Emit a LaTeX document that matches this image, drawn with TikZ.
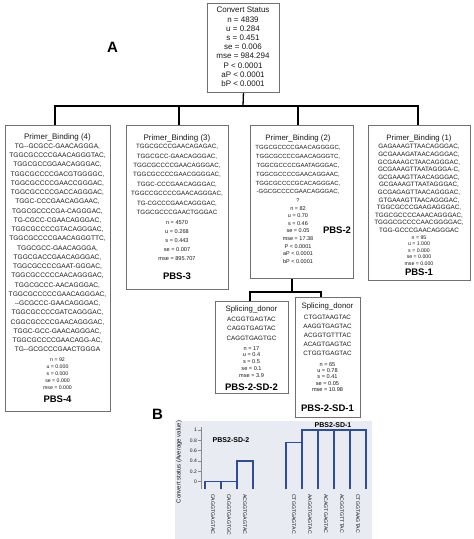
\documentclass[tikz,border=0pt]{standalone}
\usepackage{fontspec}
\setmainfont{Liberation Sans}
\definecolor{boxc}{HTML}{707070}
\definecolor{txtc}{HTML}{1A1A1A}
\definecolor{barc}{HTML}{2E4C9C}
\definecolor{panelc}{HTML}{E8EBF1}
\definecolor{axisc}{HTML}{8A8A8A}
\newcommand\fz[1]{\fontsize{#1}{#1}\selectfont}
\tikzset{
 box/.style={draw=boxc, line width=0.9pt, inner sep=0pt, anchor=north west, fill=white},
 link/.style={line width=1.3pt, draw=black},
 tx/.style={inner sep=0pt, anchor=base, text=txtc},
 lbl/.style={inner sep=0pt, anchor=base, text=black, font=\bfseries\fz{9.5}},
 barline/.style={draw=barc, line width=1.1pt},
 xlab/.style={inner sep=0pt, rotate=-90, anchor=west, text=txtc, font=\fz{5.2}},
}
\begin{document}
\begin{tikzpicture}[x=1pt,y=-1pt]
\useasboundingbox (0,0) rectangle (474,539);
\fill[white] (0,0) rectangle (474,539);

% ---- top box
\node[box, minimum width=72, minimum height=89] (b0) at (207,3) {};
\foreach \s [count=\i from 0] in {Convert Status, n = 4839, u = 0.284, s = 0.451, se = 0.006, mse = 984.294, P < 0.0001, aP < 0.0001, bP < 0.0001}
  \node[tx, font=\fz{8}] (t0-\i) at (243, 12.9+9.19*\i) {\s};

\node[inner sep=0pt, font=\bfseries\fz{15}] (labA) at (112.5,47.5) {A};

% ---- boxes of level 1
\node[box, minimum width=105, minimum height=286] (b4) at (5,125) {};
\node[box, minimum width=102, minimum height=164] (b3) at (126,125) {};
\node[box, minimum width=103, minimum height=153] (b2) at (250,125) {};
\node[box, minimum width=102, minimum height=155] (b1) at (368,125) {};

% connectors level 1
\coordinate (j) at (243,106);
\coordinate (d4) at (55,106);
\coordinate (d3) at (179,106);
\coordinate (d2) at (298,106);
\coordinate (d1) at (418,106);
\draw[link] (b0.south) -- (j);
\draw[link] (d4 |- b4.north) -- (d4) -- (d1) -- (d1 |- b1.north);
\draw[link] (d3) -- (d3 |- b3.north);
\draw[link] (d2) -- (d2 |- b2.north);

% ---- box 4
\node[tx, font=\fz{8}] (t4) at (57.5,139.4) {Primer\_Binding (4)};
\foreach \s [count=\i from 0] in {{TG-{}-GCGCC-GAACAGGGA,},{TGGCGCCCCGAACAGGGTAC,},{TGGCGCCGGAACAGGGAC,},{TGGCGCCCCGACGTGGGGC,},{TGGCGCCCCGAACCGGGAC,},{TGGCGCCCCGACCAGGGAC,},{TGGC-CCCGAACAGGAAC,},{TGGCGCCCCGA-CAGGGAC,},{TG-CGCC-CGAACAGGGAC,},{TGGCGCCCCGTACAGGGAC,},{TGGCGCCCCGAACAGGGTTC,},{TGGCGCC-GAACAGGGA,},{TGGCGACCGAACAGGGAC,},{TGGCGCCCCGAAT-GGGAC,},{TGGCGCCCCCAACAGGGAC,},{TGGCGCCC-AACAGGGAC,},{TGGCGCCCCCGAACAGGGAC,},{-{}-GCGCCC-GAACAGGGAC,},{TGGCGCCCCGATCAGGGAC,},{CGGCGCCCCGAACAGGGAC,},{TGGC-GCC-GAACAGGGAC,},{TGGCGCCCCGAACAGG-AC,},{TG-{}-GCGCCCGAACTGGGA}}
  \node[tx, font=\fz{6.6}] (s4-\i) at (57.5, 148.4+9.25*\i) {\s};
\foreach \s [count=\i from 0] in {n = 92, u = 0.000, s = 0.000, se = 0.000, mse = 0.000}
  \node[tx, font=\fz{5.2}] (m4-\i) at (57.5, 361.4+6.9*\i) {\s};
\node[lbl] (p4) at (57.5,402.9) {PBS-4};

% ---- box 3
\node[tx, font=\fz{8}] (t3) at (177,140.4) {Primer\_Binding (3)};
\foreach \s [count=\i from 0] in {{TGGCGCCCGAACAGAGAC,},{TGGCGCC-GAACAGGGAC,},{TGGCGCCCCGAACAGGGAC,},{TGGCGCCCCGAACGGGGAC,},{TGGC-CCCGAACAGGGAC,},{TGGCCGCCCCGAACAGGGAC,},{TG-CGCCCGAACAGGGAC,},{TGGCGCCCGAACTGGGAC}}
  \node[tx, font=\fz{6.2}] (s3-\i) at (177, 148.9+9.35*\i) {\s};
\foreach \s [count=\i from 0] in {n = 4570, u = 0.268, s = 0.443, se = 0.007, mse = 895.707}
  \node[tx, font=\fz{5.6}] (m3-\i) at (177, 224+9*\i) {\s};
\node[lbl] (p3) at (177,279.4) {PBS-3};

% ---- box 2
\node[tx, font=\fz{7.8}] (t2) at (298,140.3) {Primer\_Binding (2)};
\foreach \s [count=\i from 0] in {{TGGCGCCCCGAACAGGGGC,},{TGGCGCCCCGAACAGGGTC,},{TGGCGCCCCGAATAGGGAC,},{TGGCGCCCCGAACAGGAAC,},{TGGCGCCCCGCACAGGGAC,},{-GGCGCCCCGAACAGGGAC,}}
  \node[tx, font=\fz{6}] (s2-\i) at (298, 149.4+8.9*\i) {\s};
\foreach \s [count=\i from 0] in {?, n = 82, u = 0.70, s = 0.46, se = 0.05, mse = 17.38, P < 0.0001, aP < 0.0001, bP < 0.0001}
  \node[tx, font=\fz{5.5}] (m2-\i) at (298, 202.5+7.6*\i) {\s};
\node[lbl] (p2) at (337,233.9) {PBS-2};

% ---- box 1
\node[tx, font=\fz{7.8}] (t1) at (419,140.8) {Primer\_Binding (1)};
\foreach \s [count=\i from 0] in {{GAGAAAGTTAACAGGGAC,},{GCGAAAGATAACAGGGAC,},{GCGAAAGCTAACAGGGAC,},{GCGAAAGTTAATAGGGA-C,},{GCGAAAGTTAACAGGGAC,},{GCGAAAGTTAATAGGGAC,},{GCGAGAGTTAACAGGGAC,},{GTGAAAGTTAACAGGGAC,},{TGGCGCCCGAAGAGGGAC,},{TGGCGCCCCAAACAGGGAC,},{TGGGCGCCCCAACGGGGAC,},{TGG-GCCCGAACAGGGAC}}
  \node[tx, font=\fz{6.3}] (s1-\i) at (419, 148.9+7.6*\i) {\s};
\foreach \s [count=\i from 0] in {n = 95, u = 1.000, s = 0.000, se = 0.000, mse = 0.000}
  \node[tx, font=\fz{5.2}] (m1-\i) at (419, 239.2+6.5*\i) {\s};
\node[lbl] (p1) at (419,275.4) {PBS-1};

% ---- splicing donor boxes
\node[box, minimum width=73, minimum height=92] (sd2) at (215,301) {};
\node[box, minimum width=65, minimum height=120] (sd1) at (295,297) {};
\coordinate (k) at (292,292);
\coordinate (kl) at (250,292);
\coordinate (kr) at (321,292);
\draw[link] (k |- b2.south) -- (k);
\draw[link] (kl |- sd2.north) -- (kl) -- (kr) -- (kr |- sd1.north);

\node[tx, font=\fz{7.8}] (tsd2) at (251.5,311.3) {Splicing\_donor};
\foreach \s [count=\i from 0] in {ACGGTGAGTAC, CAGGTGAGTAC, CAGGTGAGTGC}
  \node[tx, font=\fz{6.3}] (ssd2-\i) at (251.5, 321.3+9.5*\i) {\s};
\foreach \s [count=\i from 0] in {n = 17, u = 0.4, s = 0.5, se = 0.1, mse = 3.9}
  \node[tx, font=\fz{5.6}] (msd2-\i) at (251.5, 350+6.8*\i) {\s};
\node[lbl] (psd2) at (251.5,390.4) {PBS-2-SD-2};

\node[tx, font=\fz{7.8}] (tsd1) at (327.5,308.8) {Splicing\_donor};
\foreach \s [count=\i from 0] in {CTGGTAAGTAC, AAGGTGAGTAC, ACGGTGTTTAC, ACAGTGAGTAC, CTGGTGAGTAC}
  \node[tx, font=\fz{6.3}] (ssd1-\i) at (327.5, 319.3+9*\i) {\s};
\foreach \s [count=\i from 0] in {n = 65, u = 0.78, s = 0.41, se = 0.05, mse = 10.98}
  \node[tx, font=\fz{5.6}] (msd1-\i) at (327.5, 366+6.4*\i) {\s};
\node[lbl] (psd1) at (327.5,411.4) {PBS-2-SD-1};

% ---- panel B
\node[inner sep=0pt, font=\bfseries\fz{15}] (labB) at (157.5,414) {B};
\fill[panelc] (175,421) rectangle (372,539);
\draw[axisc, line width=0.6pt] (201,427) -- (201,489);
\foreach \v/\t [count=\i from 0] in {0/0, 0.2/0.2, 0.4/0.4, 0.6/0.6, 0.8/0.8, 1/1}{
  \draw[axisc, line width=0.5pt] (198,481.7-51.7*\v) -- (201,481.7-51.7*\v);
  \node[inner sep=0pt, anchor=east, text=txtc, font=\fz{5}] (tk-\i) at (197,481.7-51.7*\v) {\t};
}
\node[inner sep=0pt, rotate=90, text=txtc, font=\fz{6}] (ylab) at (179,462) {Convert status (Average value)};
\foreach \a/\b/\v/\t [count=\i from 0] in {205/221/0/CAGGTGAGTAC, 221/237/0/CAGGTGAGTGC, 237/253/0.4/ACGGTGAGTAC, 286/302/0.75/CTGGTGAGTAC, 302/318/1/AAGGTGAGTAC, 318/334/1/ACAGTGAGTAC, 334/350/1/ACGGTGTTTAC, 350/366/1/CTGGTAAGTAC}{
  \draw[barline] (\a,489) -- (\a,481.7-51.7*\v) -- (\b,481.7-51.7*\v) -- (\b,489);
  \node[xlab] (xl-\i) at ({(\a+\b)/2},494) {\t};
}
\node[inner sep=0pt, font=\bfseries\fz{7}] (g2) at (231,440) {PBS2-SD-2};
\node[inner sep=0pt, font=\bfseries\fz{7}] (g1) at (333,425.5) {PBS2-SD-1};
\end{tikzpicture}
\end{document}
